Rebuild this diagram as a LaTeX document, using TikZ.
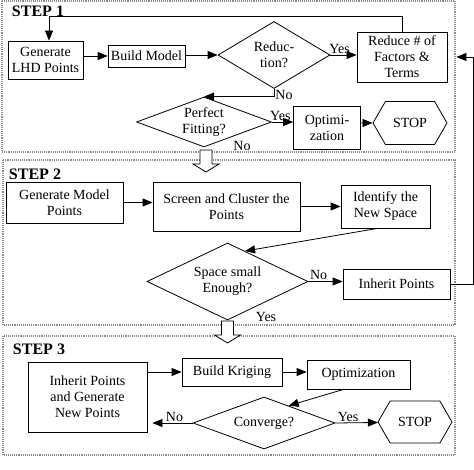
\documentclass[tikz,border=0pt]{standalone}
\usepackage{fontspec}
\setmainfont{Liberation Serif}
\usepackage{tikz}
\usetikzlibrary{arrows.meta,shapes.geometric,shapes.symbols,calc}
\tikzset{every picture/.style={line width=0.8pt}}
\tikzset{
  box/.style={draw, align=center, inner sep=1pt, font=\fontsize{14}{16}\selectfont},
  decide/.style={diamond, draw, aspect=2, inner sep=0pt, align=center, font=\fontsize{14}{16}\selectfont},
  stopsign/.style={signal, signal to=east and west, signal pointer angle=120, draw,
    minimum width=74, minimum height=43, inner sep=0pt, font=\fontsize{14}{16}\selectfont},
  steplbl/.style={font=\fontsize{16}{18}\selectfont\bfseries, inner sep=0pt},
  lbl/.style={font=\fontsize{14}{16}\selectfont, inner sep=1pt},
  frame/.style={draw=gray!90, densely dotted, line width=1.1pt},
  flow/.style={-{Triangle[length=10pt,width=8pt]}}
}

\begin{document}
\begin{tikzpicture}[x=1pt, y=-1pt]
    \useasboundingbox[fill=white] (0,0) rectangle (474,470);

    % 三个阶段的虚线框
    \draw[frame] (2,1) rectangle (455,152);
    \draw[frame] (3,160) rectangle (455,325);
    \draw[frame] (3,336) rectangle (455,455);

    % STEP 1
    \node[steplbl] (s1) at (38,11) {STEP 1};
    \node[box, minimum width=75, minimum height=38] (genlhd) at (45.5,60) {Generate\\LHD Points};
    \node[box, minimum width=77, minimum height=22] (build) at (146.5,56) {Build Model};
    \node[decide, minimum width=112, minimum height=67] (reduc) at (274,55) {Reduc-\\tion?};
    \node[box, minimum width=90, minimum height=50] (reduce) at (402,57) {Reduce \# of\\Factors \&\\Terms};
    \node[decide, minimum width=135, minimum height=50, aspect=2.5] (perfect) at (204,122) {Perfect\\Fitting?};
    \node[box, minimum width=67, minimum height=43] (optim1) at (327,128) {Optimi-\\zation};
    \node[stopsign] (stop1) at (410,123) {STOP};
    \node[lbl] (no1) at (242,146) {No};

    \coordinate (loop) at (49,16);
    \draw[flow] (genlhd.east |- build.west) -- (build.west);
    \draw[flow] (build.east |- reduc.west) -- (reduc.west);
    \draw[flow] (reduc.east) -- (reduc.east -| reduce.west)
        node[lbl, above, pos=0.35] {Yes};
    \draw[flow] (reduce.north) |- (loop) -- (loop |- genlhd.north);
    \draw[flow] (reduc.south) node[lbl, below right] {No} |- (perfect.north);
    \draw[flow] (perfect.east) -- (perfect.east -| optim1.west)
        node[lbl, above, pos=0.4] {Yes};
    \draw[flow] (optim1.east |- stop1) -- (stop1);

    % STEP 2
    \node[steplbl] (s2) at (35,174) {STEP 2};
    \node[box, minimum width=117, minimum height=41] (genmod) at (64.5,202.5) {Generate Model\\Points};
    \node[box, minimum width=147, minimum height=49] (screen) at (226.5,206.5) {Screen and Cluster the\\Points};
    \node[box, minimum width=89, minimum height=43] (ident) at (385.5,206.5) {Identify the\\New Space};
    \node[decide, minimum width=161, minimum height=77] (space) at (227.5,281.5) {Space small\\Enough?};
    \node[box, minimum width=107, minimum height=30] (inherit) at (396.5,284) {Inherit Points};
    \node[lbl] (yes2) at (266,317) {Yes};

    \coordinate (rt) at (473,0);
    \draw[flow] (genmod.east) -- (genmod.east -| screen.west);
    \draw[flow] (screen.east) -- (screen.east -| ident.west);
    \draw[flow] ([xshift=-8pt]ident.south) -- (space.60);
    \draw[flow] (space.east) -- (space.east -| inherit.west)
        node[lbl, above, pos=0.3] {No};
    \draw[flow, shorten >=9pt] (inherit.east) -- (inherit.east -| rt) |- (reduce.east);

    % STEP 3
    \node[steplbl] (s3) at (39,349) {STEP 3};
    \node[box, minimum width=119, minimum height=70] (inhgen) at (87.5,397) {Inherit Points\\and Generate\\New Points};
    \node[box, minimum width=100, minimum height=28] (krig) at (232,372) {Build Kriging};
    \node[box, minimum width=103, minimum height=29] (optim3) at (358.5,374.5) {Optimization};
    \node[decide, minimum width=142, minimum height=52, aspect=3] (conv) at (264,423) {Converge?};
    \node[stopsign, minimum height=42] (stop3) at (415,422) {STOP};

    \draw[flow] (inhgen.east |- krig.west) -- (krig.west);
    \draw[flow] (krig.east) -- (krig.east -| optim3.west);
    \draw[flow] ([xshift=-15pt]optim3.south) -- (conv.35);
    \draw[flow, shorten >=5pt] (conv.west) -- (conv.west -| inhgen.east)
        node[lbl, above, pos=0.4] {No};
    \draw[flow] (conv.east) -- (stop3)
        node[lbl, above, pos=0.3] {Yes};

    % 阶段之间的空心箭头
    \foreach \x/\y in {206/150, 227.5/321} {
        \draw[fill=white] (\x-6,\y) -- (\x+6,\y) -- (\x+6,\y+14) -- (\x+13,\y+14)
            -- (\x,\y+22) -- (\x-13,\y+14) -- (\x-6,\y+14) -- cycle;
    }
\end{tikzpicture}
\end{document}
